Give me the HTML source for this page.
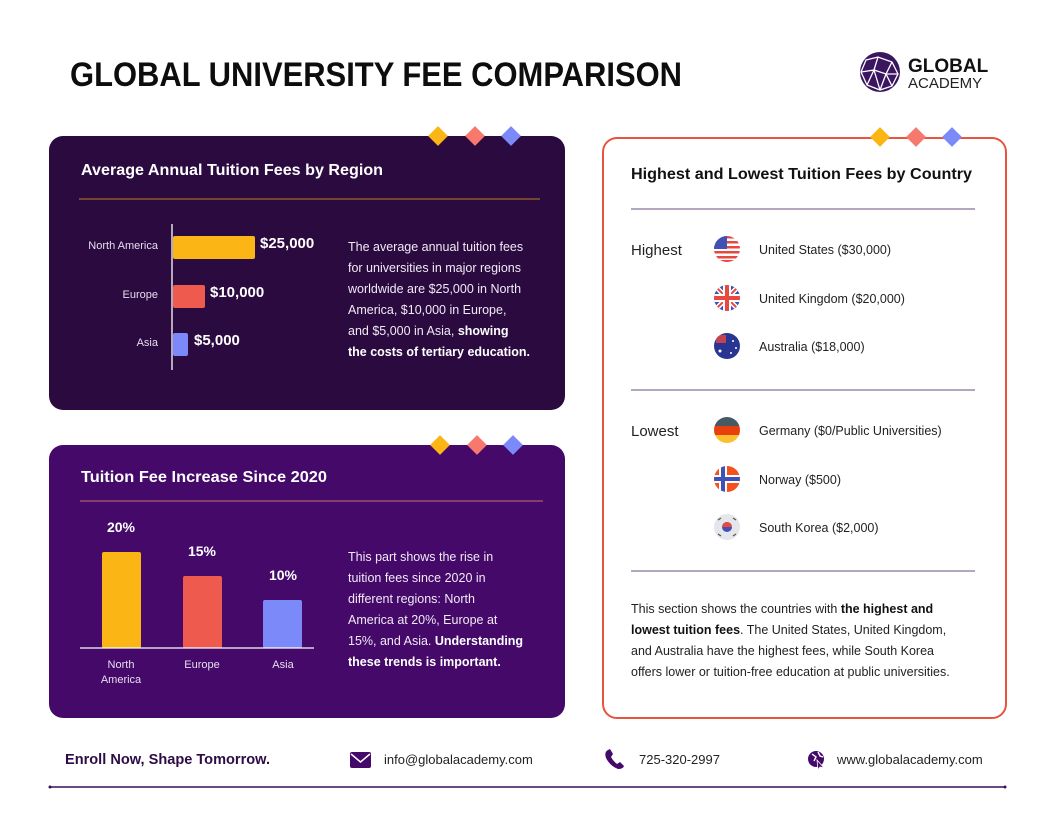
<!DOCTYPE html>
<html><head><meta charset="utf-8"><style>
html,body{margin:0;padding:0;background:#fff}
svg{display:block}
text{font-family:"Liberation Sans",sans-serif}
</style></head><body>
<svg width="1056" height="816" viewBox="0 0 1056 816" xmlns="http://www.w3.org/2000/svg">
<rect width="1056" height="816" fill="#fff"/>
<!-- title -->
<text x="70" y="86" font-size="34" font-weight="bold" fill="#0d0d0d" textLength="612" lengthAdjust="spacingAndGlyphs">GLOBAL UNIVERSITY FEE COMPARISON</text>
<!-- logo -->
<circle cx="880" cy="72" r="20" fill="#3a1560"/>
<g stroke="#fff" stroke-width="1.3" fill="none">
<path d="M866 60 L878 57 L892 62 L898 74 L892 86 L880 90 L867 85 L861 72 Z"/>
<path d="M878 57 L874 70 L861 72 M874 70 L867 85 M874 70 L886 74 L892 62 M886 74 L898 74 M886 74 L880 90 M886 74 L892 86 M874 70 L880 90"/>
</g>
<text x="908" y="72" font-size="19" font-weight="bold" fill="#111">GLOBAL</text>
<text x="908" y="88" font-size="15" fill="#222">ACADEMY</text>

<!-- card 1 -->
<rect x="49" y="136" width="516" height="274" rx="14" fill="#2b0a40"/>
<g>
<rect x="431" y="129" width="14" height="14" fill="#fbb615" transform="rotate(45 438 136)"/>
<rect x="468" y="129" width="14" height="14" fill="#f7786c" transform="rotate(45 475 136)"/>
<rect x="504" y="129" width="14" height="14" fill="#7b8af8" transform="rotate(45 511 136)"/>
</g>
<text x="81" y="175" font-size="16" font-weight="bold" fill="#fff" textLength="302" lengthAdjust="spacingAndGlyphs">Average Annual Tuition Fees by Region</text>
<line x1="79" y1="199" x2="540" y2="199" stroke="#8c5a2c" stroke-width="1.5"/>
<line x1="172" y1="224" x2="172" y2="370" stroke="#fff" stroke-width="1.3"/>
<rect x="173" y="236" width="82" height="23" rx="2" fill="#fbb615"/>
<rect x="173" y="285" width="32" height="23" rx="2" fill="#ef5a4f"/>
<rect x="173" y="333" width="15" height="23" rx="2" fill="#7b8af8"/>
<g font-size="11" fill="#e6deee" text-anchor="end">
<text x="158" y="249">North America</text>
<text x="158" y="298">Europe</text>
<text x="158" y="346">Asia</text>
</g>
<g font-size="15" font-weight="bold" fill="#fff">
<text x="260" y="248">$25,000</text>
<text x="210" y="297">$10,000</text>
<text x="194" y="345">$5,000</text>
</g>
<g font-size="12.5" fill="#f0eaf4">
<text x="348" y="251">The average annual tuition fees</text>
<text x="348" y="272">for universities in major regions</text>
<text x="348" y="293">worldwide are $25,000 in North</text>
<text x="348" y="314">America, $10,000 in Europe,</text>
<text x="348" y="335">and $5,000 in Asia, <tspan font-weight="bold" fill="#fff">showing</tspan></text>
<text x="348" y="356" font-weight="bold" fill="#fff">the costs of tertiary education.</text>
</g>

<!-- card 2 -->
<rect x="49" y="445" width="516" height="273" rx="14" fill="#45096a"/>
<g>
<rect x="433" y="438" width="14" height="14" fill="#fbb615" transform="rotate(45 440 445)"/>
<rect x="470" y="438" width="14" height="14" fill="#f7786c" transform="rotate(45 477 445)"/>
<rect x="506" y="438" width="14" height="14" fill="#7b8af8" transform="rotate(45 513 445)"/>
</g>
<text x="81" y="482" font-size="16" font-weight="bold" fill="#fff" textLength="246" lengthAdjust="spacingAndGlyphs">Tuition Fee Increase Since 2020</text>
<line x1="80" y1="501" x2="543" y2="501" stroke="#9b4e6c" stroke-width="1.5"/>
<rect x="102" y="552" width="39" height="96" rx="2" fill="#fbb615"/>
<rect x="183" y="576" width="39" height="72" rx="2" fill="#ef5a4f"/>
<rect x="263" y="600" width="39" height="48" rx="2" fill="#7b8af8"/>
<line x1="80" y1="648" x2="314" y2="648" stroke="#fff" stroke-width="1.3"/>
<g font-size="14" font-weight="bold" fill="#fff" text-anchor="middle">
<text x="121" y="532">20%</text>
<text x="202" y="556">15%</text>
<text x="283" y="580">10%</text>
</g>
<g font-size="11" fill="#e6deee" text-anchor="middle">
<text x="121" y="668">North</text>
<text x="121" y="683">America</text>
<text x="202" y="668">Europe</text>
<text x="283" y="668">Asia</text>
</g>
<g font-size="12.5" fill="#f0eaf4">
<text x="348" y="561">This part shows the rise in</text>
<text x="348" y="582">tuition fees since 2020 in</text>
<text x="348" y="603">different regions: North</text>
<text x="348" y="624">America at 20%, Europe at</text>
<text x="348" y="645">15%, and Asia. <tspan font-weight="bold" fill="#fff">Understanding</tspan></text>
<text x="348" y="666" font-weight="bold" fill="#fff">these trends is important.</text>
</g>

<!-- right card -->
<rect x="603" y="138" width="403" height="580" rx="14" fill="#fff" stroke="#e8553f" stroke-width="2"/>
<g>
<rect x="873" y="130" width="14" height="14" fill="#fbb615" transform="rotate(45 880 137)"/>
<rect x="909" y="130" width="14" height="14" fill="#f7786c" transform="rotate(45 916 137)"/>
<rect x="945" y="130" width="14" height="14" fill="#7b8af8" transform="rotate(45 952 137)"/>
</g>
<text x="631" y="179" font-size="16" font-weight="bold" fill="#111" textLength="341" lengthAdjust="spacingAndGlyphs">Highest and Lowest Tuition Fees by Country</text>
<g stroke="#9a8aa8" stroke-width="1.5">
<line x1="631" y1="209" x2="975" y2="209"/>
<line x1="631" y1="390" x2="975" y2="390"/>
<line x1="631" y1="571" x2="975" y2="571"/>
</g>
<text x="631" y="255" font-size="15" fill="#222">Highest</text>
<text x="631" y="436" font-size="15" fill="#222">Lowest</text>
<defs>
<clipPath id="c1"><circle cx="727" cy="249" r="13"/></clipPath>
<clipPath id="c2"><circle cx="727" cy="298" r="13"/></clipPath>
<clipPath id="c3"><circle cx="727" cy="346" r="13"/></clipPath>
<clipPath id="c4"><circle cx="727" cy="430" r="13"/></clipPath>
<clipPath id="c5"><circle cx="727" cy="479" r="13"/></clipPath>
<clipPath id="c6"><circle cx="727" cy="527" r="13"/></clipPath>
</defs>
<!-- US -->
<g clip-path="url(#c1)">
<rect x="714" y="236" width="26" height="26" fill="#fff"/>
<g fill="#e8483f"><rect x="714" y="236" width="26" height="2.5"/><rect x="714" y="241" width="26" height="2.5"/><rect x="714" y="246" width="26" height="2.5"/><rect x="714" y="251" width="26" height="2.5"/><rect x="714" y="256" width="26" height="2.5"/><rect x="714" y="260" width="26" height="2.5"/></g>
<rect x="714" y="236" width="13" height="13" fill="#3f51b5"/>
</g>
<!-- UK -->
<g clip-path="url(#c2)">
<rect x="714" y="285" width="26" height="26" fill="#3f51b5"/>
<path d="M714 285 L740 311 M740 285 L714 311" stroke="#fff" stroke-width="5"/>
<path d="M714 285 L740 311 M740 285 L714 311" stroke="#e8483f" stroke-width="2"/>
<rect x="714" y="294" width="26" height="8" fill="#fff"/><rect x="723" y="285" width="8" height="26" fill="#fff"/>
<rect x="714" y="296" width="26" height="4" fill="#e8483f"/><rect x="725" y="285" width="4" height="26" fill="#e8483f"/>
</g>
<!-- AU -->
<g clip-path="url(#c3)">
<rect x="714" y="333" width="26" height="26" fill="#283593"/>
<rect x="716" y="335" width="10" height="8" fill="#e8483f" opacity=".8"/>
<g fill="#fff"><circle cx="733" cy="341" r="1"/><circle cx="736" cy="348" r="1"/><circle cx="731" cy="353" r="1"/><circle cx="720" cy="351" r="1.5"/></g>
</g>
<!-- DE -->
<g clip-path="url(#c4)">
<rect x="714" y="417" width="26" height="9" fill="#455a64"/>
<rect x="714" y="426" width="26" height="9" fill="#e8400c"/>
<rect x="714" y="435" width="26" height="9" fill="#fbc02d"/>
</g>
<!-- NO -->
<g clip-path="url(#c5)">
<rect x="714" y="466" width="26" height="26" fill="#f4511e"/>
<rect x="714" y="475" width="26" height="8" fill="#fff"/><rect x="719" y="466" width="8" height="26" fill="#fff"/>
<rect x="714" y="477" width="26" height="4" fill="#3f51b5"/><rect x="721" y="466" width="4" height="26" fill="#3f51b5"/>
</g>
<!-- KR -->
<g clip-path="url(#c6)">
<rect x="714" y="514" width="26" height="26" fill="#e3e6ea"/>
<circle cx="727" cy="527" r="5" fill="#3f51b5"/>
<path d="M722 527 A5 5 0 0 1 732 527 Z" fill="#e8483f"/>
<g stroke="#555" stroke-width="1.2"><line x1="718" y1="520" x2="721" y2="518"/><line x1="733" y1="518" x2="736" y2="520"/><line x1="718" y1="534" x2="721" y2="536"/><line x1="733" y1="536" x2="736" y2="534"/></g>
</g>
<g font-size="12.5" fill="#222">
<text x="759" y="254">United States ($30,000)</text>
<text x="759" y="303">United Kingdom ($20,000)</text>
<text x="759" y="351">Australia ($18,000)</text>
<text x="759" y="435">Germany ($0/Public Universities)</text>
<text x="759" y="484">Norway ($500)</text>
<text x="759" y="532">South Korea ($2,000)</text>
</g>
<g font-size="12.5" fill="#222">
<text x="631" y="613">This section shows the countries with <tspan font-weight="bold" fill="#111">the highest and</tspan></text>
<text x="631" y="634"><tspan font-weight="bold" fill="#111">lowest tuition fees</tspan>. The United States, United Kingdom,</text>
<text x="631" y="655">and Australia have the highest fees, while South Korea</text>
<text x="631" y="676">offers lower or tuition-free education at public universities.</text>
</g>

<!-- footer -->
<text x="65" y="764" font-size="15" font-weight="bold" fill="#2d0c45" textLength="205" lengthAdjust="spacingAndGlyphs">Enroll Now, Shape Tomorrow.</text>
<rect x="350" y="752" width="21" height="16" rx="2" fill="#45096a"/>
<path d="M351 754 L360.5 762 L370 754" stroke="#fff" stroke-width="1.5" fill="none"/>
<text x="384" y="764" font-size="13" fill="#222">info@globalacademy.com</text>
<path d="M608 750 Q604 752 606 758 Q610 766 618 769 Q623 769 624 766 L620 762 L617 764 Q613 761 611 757 L613 754 L610 749 Z" fill="#45096a"/>
<text x="639" y="764" font-size="13" fill="#222">725-320-2997</text>
<circle cx="816" cy="759" r="8" fill="#45096a"/>
<path d="M812 754 L816 757 L814 761 M818 752 L820 756 L823 757" stroke="#fff" stroke-width="1.4" fill="none"/>
<path d="M817 760 L824 768 L820 767 L818 770 Z" fill="#45096a" stroke="#fff" stroke-width="0.8"/>
<text x="837" y="764" font-size="13" fill="#222">www.globalacademy.com</text>
<line x1="50" y1="787" x2="1005" y2="787" stroke="#3a0f55" stroke-width="1.5"/>
<circle cx="50" cy="787" r="1.5" fill="#3a0f55"/><circle cx="1005" cy="787" r="1.5" fill="#3a0f55"/>
</svg>
</body></html>
